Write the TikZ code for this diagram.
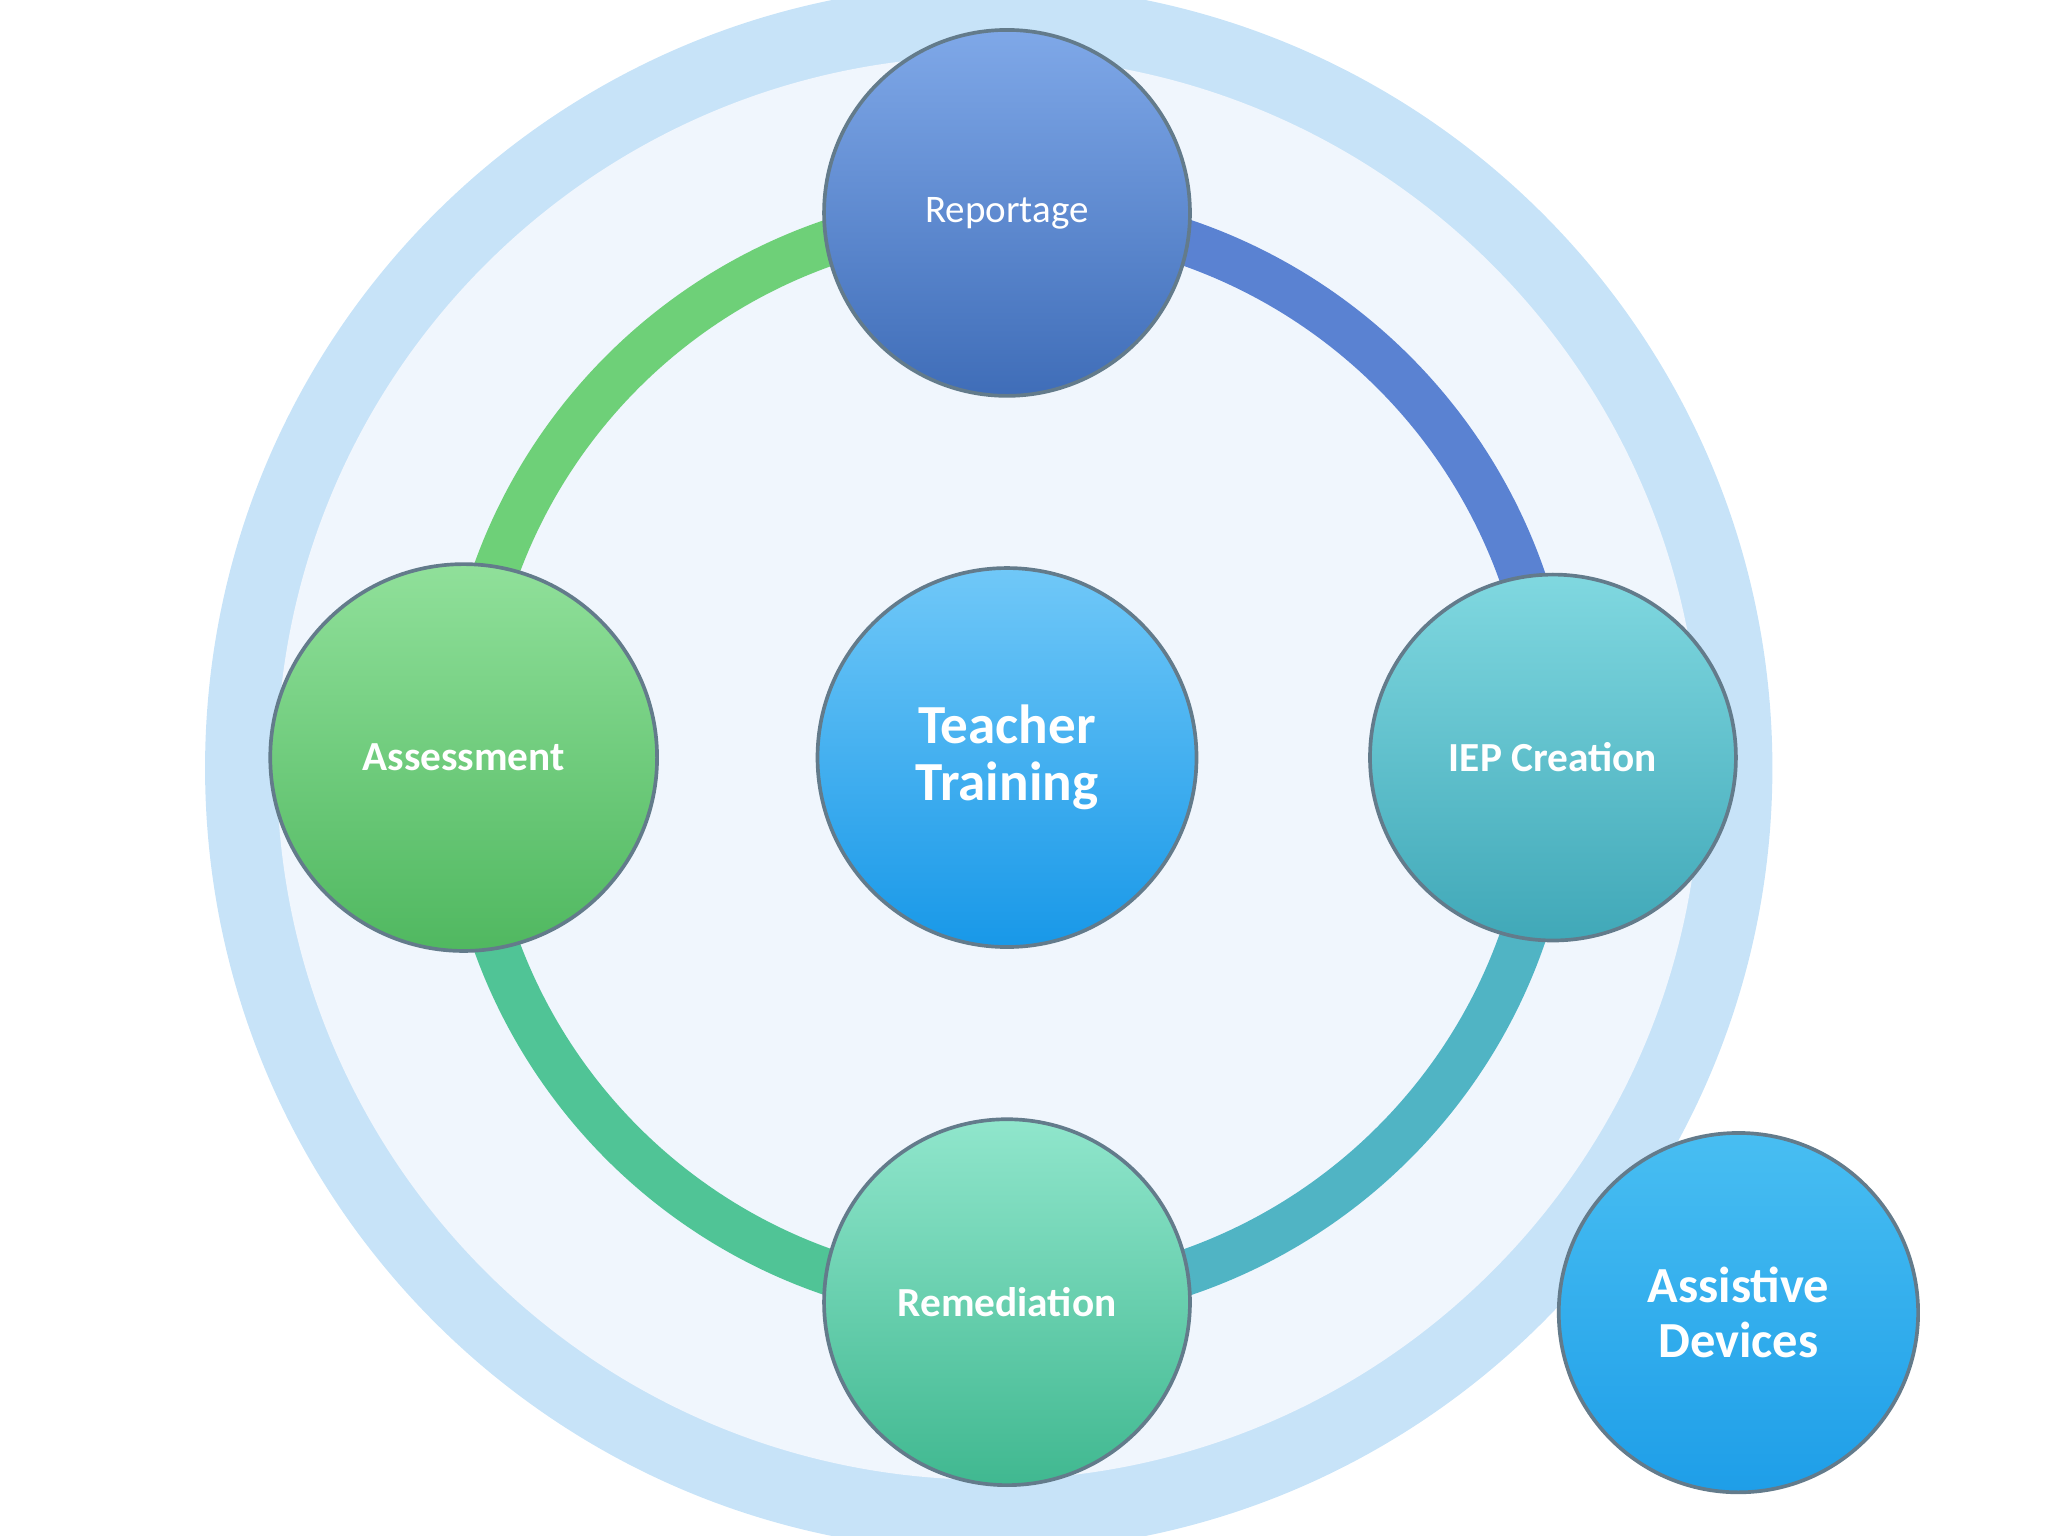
\documentclass[tikz,border=0pt]{standalone}
\usepackage{fontspec}
\setmainfont{Carlito}
\usetikzlibrary{positioning}
\definecolor{ringBlue}{RGB}{199,227,248}
\definecolor{innerFill}{RGB}{240,246,253}
\definecolor{edgeGrey}{RGB}{60,90,110}
\tikzset{
    cycle_node/.style={
        circle,
        draw=edgeGrey!80,
        thick,
        minimum size=2.8cm,
        text=white,
        font=\bfseries\fontsize{9}{10}\selectfont,
        align=center,
        shading=axis
    },
    cycle_link/.style={
        line width=0.35cm
    }
}
\begin{document}
\begin{tikzpicture}[x=0.01cm,y=-0.01cm]
    \useasboundingbox (0,0) rectangle (1568,1176);
    % background disc
    \fill[ringBlue] (757,588) circle (600);
    \fill[innerFill] (757,588) circle (545);

    \coordinate (c_rep) at (771,163);
    \coordinate (c_iep) at (1189,580);
    \coordinate (c_rem) at (771,997);
    \coordinate (c_ass) at (355,580);

    \draw[cycle_link, color={rgb,255:red,90;green,130;blue,210}] (c_rep) to[bend left=45] (c_iep);
    \draw[cycle_link, color={rgb,255:red,80;green,180;blue,196}] (c_iep) to[bend left=45] (c_rem);
    \draw[cycle_link, color={rgb,255:red,80;green,196;blue,150}] (c_rem) to[bend left=45] (c_ass);
    \draw[cycle_link, color={rgb,255:red,110;green,208;blue,120}] (c_ass) to[bend left=45] (c_rep);

    \node[cycle_node, top color={rgb,255:red,127;green,168;blue,232}, bottom color={rgb,255:red,63;green,109;blue,184},
        font=\fontsize{8.5}{10}\selectfont] (rep) at (c_rep) {Reportage};
    \node[cycle_node, top color={rgb,255:red,128;green,216;blue,224}, bottom color={rgb,255:red,64;green,168;blue,184}] (iep) at (c_iep) {IEP Creation};
    \node[cycle_node, top color={rgb,255:red,144;green,230;blue,204}, bottom color={rgb,255:red,64;green,184;blue,144}] (rem) at (c_rem) {Remediation};
    \node[cycle_node, minimum width=2.96cm, minimum height=2.76cm, ellipse/.try, top color={rgb,255:red,144;green,224;blue,154}, bottom color={rgb,255:red,80;green,184;blue,96}] (ass) at (c_ass) {Assessment};
    \node[cycle_node, minimum size=2.9cm, top color={rgb,255:red,112;green,200;blue,248}, bottom color={rgb,255:red,24;green,152;blue,232},
        font=\bfseries\fontsize{12}{12.5}\selectfont] (teach) at (771,580) {Teacher\\Training};
    \node[cycle_node, minimum size=2.75cm, top color={rgb,255:red,72;green,190;blue,242}, bottom color={rgb,255:red,30;green,158;blue,232},
        font=\bfseries\fontsize{11}{12}\selectfont] (devices) at (1331,1005) {Assistive\\Devices};
\end{tikzpicture}
\end{document}
